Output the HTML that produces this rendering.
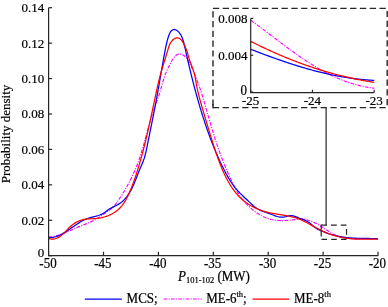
<!DOCTYPE html>
<html><head><meta charset="utf-8"><style>
html,body{margin:0;padding:0;background:#fff;}
svg{display:block;}
text{font-family:"Liberation Serif", "Times New Roman", serif;font-size:13px;fill:#000;stroke:#000;stroke-width:0.2px;}
</style></head><body>
<svg width="388" height="307" viewBox="0 0 388 307">
<rect width="388" height="307" fill="#fff"/>
<g fill="none" stroke-linejoin="round">
<path d="M48.59,236.96 L49.99,236.85 L51.37,236.69 L52.74,236.48 L54.09,236.23 L55.44,235.93 L56.76,235.60 L58.08,235.22 L59.39,234.82 L60.69,234.38 L61.98,233.92 L63.26,233.43 L64.54,232.92 L65.81,232.40 L67.08,231.86 L68.35,231.31 L69.61,230.75 L70.87,230.18 L72.13,229.62 L73.39,229.05 L74.66,228.49 L75.92,227.94 L77.19,227.40 L78.47,226.87 L79.75,226.35 L81.03,225.85 L82.31,225.35 L83.60,224.85 L84.88,224.35 L86.16,223.85 L87.43,223.34 L88.69,222.81 L89.95,222.27 L91.20,221.70 L92.43,221.11 L93.66,220.49 L94.86,219.83 L96.05,219.14 L97.23,218.41 L98.39,217.65 L99.54,216.87 L100.69,216.09 L101.83,215.29 L102.98,214.50 L104.13,213.73 L105.29,212.97 L106.44,212.20 L107.58,211.44 L108.70,210.66 L109.81,209.85 L110.88,209.02 L111.93,208.15 L112.93,207.23 L113.89,206.25 L114.80,205.22 L115.67,204.14 L116.51,203.03 L117.32,201.89 L118.11,200.74 L118.89,199.59 L119.66,198.44 L120.41,197.29 L121.16,196.14 L121.89,194.98 L122.62,193.82 L123.34,192.66 L124.04,191.48 L124.74,190.31 L125.43,189.12 L126.12,187.93 L126.80,186.74 L127.46,185.54 L128.12,184.33 L128.77,183.11 L129.42,181.89 L130.05,180.67 L130.67,179.44 L131.29,178.20 L131.90,176.96 L132.49,175.71 L133.08,174.46 L133.65,173.20 L134.22,171.94 L134.78,170.68 L135.32,169.41 L135.86,168.13 L136.38,166.85 L136.89,165.57 L137.39,164.28 L137.88,162.99 L138.36,161.70 L138.83,160.40 L139.28,159.10 L139.73,157.79 L140.17,156.48 L140.59,155.17 L141.01,153.86 L141.42,152.54 L141.82,151.23 L142.21,149.91 L142.60,148.58 L142.99,147.26 L143.36,145.93 L143.73,144.61 L144.10,143.28 L144.47,141.95 L144.83,140.62 L145.19,139.29 L145.54,137.96 L145.90,136.63 L146.25,135.29 L146.61,133.96 L146.96,132.63 L147.32,131.30 L147.67,129.97 L148.03,128.64 L148.39,127.31 L148.76,125.98 L149.13,124.66 L149.50,123.33 L149.88,122.01 L150.26,120.69 L150.65,119.37 L151.04,118.05 L151.45,116.74 L151.86,115.43 L152.28,114.12 L152.70,112.81 L153.14,111.51 L153.59,110.21 L154.04,108.91 L154.50,107.62 L154.96,106.33 L155.43,105.03 L155.90,103.74 L156.37,102.45 L156.83,101.15 L157.30,99.85 L157.76,98.56 L158.21,97.26 L158.66,95.95 L159.09,94.64 L159.52,93.33 L159.94,92.02 L160.34,90.69 L160.73,89.37 L161.11,88.04 L161.48,86.70 L161.86,85.37 L162.23,84.04 L162.60,82.72 L162.99,81.39 L163.38,80.08 L163.78,78.77 L164.20,77.46 L164.64,76.17 L165.09,74.89 L165.57,73.62 L166.07,72.37 L166.60,71.12 L167.15,69.87 L167.72,68.64 L168.32,67.40 L168.94,66.17 L169.58,64.94 L170.25,63.71 L170.95,62.47 L171.67,61.24 L172.41,59.99 L173.18,58.74 L174.00,57.53 L174.86,56.41 L175.81,55.44 L176.85,54.69 L178.00,54.22 L179.25,54.04 L180.54,54.13 L181.83,54.45 L183.06,54.99 L184.19,55.70 L185.19,56.56 L186.10,57.55 L186.92,58.64 L187.67,59.81 L188.38,61.04 L189.05,62.29 L189.70,63.55 L190.34,64.81 L190.97,66.07 L191.58,67.34 L192.18,68.61 L192.76,69.88 L193.33,71.15 L193.89,72.43 L194.44,73.70 L194.98,74.98 L195.50,76.26 L196.02,77.55 L196.52,78.83 L197.01,80.12 L197.50,81.41 L197.97,82.70 L198.44,84.00 L198.90,85.29 L199.35,86.59 L199.79,87.89 L200.23,89.19 L200.66,90.49 L201.08,91.79 L201.50,93.10 L201.91,94.41 L202.32,95.71 L202.72,97.02 L203.12,98.33 L203.51,99.65 L203.90,100.96 L204.29,102.28 L204.68,103.59 L205.06,104.91 L205.44,106.23 L205.82,107.55 L206.20,108.87 L206.58,110.19 L206.95,111.51 L207.33,112.83 L207.71,114.15 L208.09,115.48 L208.47,116.80 L208.85,118.13 L209.24,119.46 L209.62,120.78 L210.01,122.11 L210.40,123.43 L210.79,124.76 L211.18,126.09 L211.58,127.41 L211.98,128.74 L212.38,130.06 L212.78,131.39 L213.19,132.71 L213.59,134.03 L214.01,135.36 L214.42,136.68 L214.84,137.99 L215.26,139.31 L215.69,140.63 L216.12,141.94 L216.55,143.26 L216.99,144.57 L217.43,145.87 L217.88,147.18 L218.33,148.49 L218.79,149.79 L219.25,151.09 L219.72,152.38 L220.19,153.68 L220.66,154.97 L221.14,156.26 L221.63,157.54 L222.12,158.82 L222.62,160.10 L223.12,161.38 L223.63,162.65 L224.15,163.92 L224.67,165.19 L225.19,166.46 L225.72,167.72 L226.26,168.98 L226.80,170.24 L227.34,171.50 L227.89,172.76 L228.45,174.02 L229.01,175.28 L229.57,176.53 L230.14,177.79 L230.72,179.04 L231.30,180.29 L231.89,181.54 L232.48,182.79 L233.09,184.03 L233.71,185.26 L234.33,186.49 L234.97,187.72 L235.63,188.93 L236.30,190.13 L236.98,191.32 L237.69,192.51 L238.41,193.67 L239.15,194.83 L239.91,195.97 L240.69,197.09 L241.50,198.20 L242.33,199.29 L243.18,200.36 L244.06,201.41 L244.97,202.44 L245.90,203.46 L246.86,204.45 L247.84,205.42 L248.84,206.38 L249.86,207.31 L250.90,208.23 L251.96,209.12 L253.04,210.00 L254.13,210.86 L255.25,211.69 L256.38,212.50 L257.53,213.27 L258.69,214.02 L259.88,214.74 L261.07,215.43 L262.29,216.07 L263.52,216.69 L264.76,217.26 L266.02,217.79 L267.30,218.27 L268.59,218.71 L269.89,219.11 L271.21,219.45 L272.54,219.74 L273.88,219.99 L275.24,220.19 L276.60,220.35 L277.97,220.47 L279.35,220.55 L280.73,220.59 L282.12,220.60 L283.51,220.58 L284.90,220.54 L286.29,220.46 L287.69,220.37 L289.08,220.25 L290.46,220.11 L291.84,219.96 L293.22,219.79 L294.59,219.61 L295.95,219.42 L297.30,219.23 L298.65,219.05 L299.98,218.91 L301.32,218.86 L302.66,218.93 L304.00,219.12 L305.34,219.41 L306.68,219.77 L308.00,220.19 L309.32,220.65 L310.63,221.12 L311.92,221.59 L313.19,222.08 L314.45,222.62 L315.69,223.20 L316.91,223.82 L318.11,224.49 L319.30,225.19 L320.48,225.92 L321.65,226.66 L322.81,227.43 L323.97,228.21 L325.13,228.99 L326.28,229.77 L327.44,230.55 L328.60,231.31 L329.76,232.06 L330.94,232.79 L332.12,233.48 L333.32,234.15 L334.53,234.77 L335.76,235.35 L337.01,235.88 L338.28,236.35 L339.56,236.77 L340.87,237.15 L342.19,237.48 L343.52,237.77 L344.87,238.01 L346.23,238.22 L347.60,238.40 L348.98,238.54 L350.37,238.66 L351.77,238.74 L353.17,238.81 L354.58,238.85 L355.99,238.87 L357.40,238.88 L358.81,238.87 L360.23,238.86 L361.64,238.83 L363.05,238.80 L364.45,238.77 L365.85,238.74 L367.25,238.71 L368.63,238.68 L370.01,238.67 L371.37,238.66 L372.73,238.67 L374.07,238.69 L375.39,238.74 L376.70,238.80 L378.00,238.89" stroke="#ff00ff" stroke-width="1.15" stroke-dasharray="3.7 1.3 1.1 1.3"/>
<path d="M48.60,237.65 L50.13,237.64 L51.63,237.53 L53.11,237.32 L54.56,237.01 L55.98,236.63 L57.38,236.16 L58.75,235.62 L60.10,235.02 L61.44,234.37 L62.75,233.66 L64.05,232.90 L65.33,232.12 L66.60,231.30 L67.85,230.45 L69.10,229.60 L70.33,228.73 L71.56,227.86 L72.78,226.99 L74.00,226.14 L75.22,225.29 L76.44,224.46 L77.66,223.65 L78.90,222.85 L80.15,222.08 L81.42,221.33 L82.71,220.60 L84.02,219.93 L85.36,219.31 L86.74,218.76 L88.15,218.28 L89.58,217.86 L91.03,217.47 L92.49,217.10 L93.96,216.73 L95.42,216.36 L96.88,215.95 L98.31,215.51 L99.73,215.01 L101.11,214.45 L102.44,213.82 L103.73,213.09 L104.96,212.27 L106.15,211.39 L107.33,210.48 L108.54,209.60 L109.80,208.79 L111.12,208.04 L112.47,207.34 L113.83,206.67 L115.20,206.00 L116.55,205.32 L117.88,204.61 L119.16,203.85 L120.38,203.02 L121.55,202.13 L122.67,201.18 L123.73,200.17 L124.75,199.12 L125.73,198.01 L126.65,196.86 L127.54,195.68 L128.39,194.45 L129.20,193.19 L129.98,191.90 L130.72,190.59 L131.43,189.25 L132.11,187.90 L132.77,186.53 L133.40,185.15 L134.01,183.76 L134.60,182.36 L135.17,180.97 L135.72,179.57 L136.26,178.19 L136.79,176.81 L137.32,175.43 L137.85,174.06 L138.38,172.69 L138.93,171.33 L139.49,169.96 L140.07,168.60 L140.67,167.23 L141.27,165.86 L141.86,164.48 L142.45,163.10 L143.01,161.70 L143.54,160.30 L144.03,158.89 L144.49,157.46 L144.91,156.03 L145.30,154.59 L145.66,153.14 L146.00,151.68 L146.33,150.22 L146.63,148.75 L146.93,147.28 L147.23,145.81 L147.52,144.35 L147.81,142.88 L148.11,141.41 L148.40,139.94 L148.70,138.48 L148.99,137.01 L149.29,135.55 L149.58,134.08 L149.88,132.62 L150.18,131.16 L150.48,129.69 L150.77,128.23 L151.07,126.77 L151.37,125.30 L151.66,123.84 L151.96,122.38 L152.25,120.92 L152.55,119.45 L152.84,117.99 L153.13,116.53 L153.42,115.06 L153.71,113.60 L154.00,112.14 L154.29,110.67 L154.57,109.21 L154.86,107.74 L155.14,106.27 L155.42,104.80 L155.70,103.34 L155.97,101.87 L156.25,100.40 L156.52,98.93 L156.79,97.45 L157.05,95.98 L157.32,94.51 L157.58,93.03 L157.84,91.56 L158.11,90.08 L158.37,88.61 L158.62,87.13 L158.88,85.66 L159.14,84.18 L159.40,82.71 L159.65,81.23 L159.91,79.75 L160.16,78.28 L160.42,76.80 L160.67,75.33 L160.93,73.86 L161.18,72.38 L161.44,70.91 L161.69,69.44 L161.95,67.97 L162.21,66.49 L162.46,65.03 L162.72,63.56 L162.98,62.09 L163.24,60.62 L163.51,59.16 L163.77,57.69 L164.04,56.23 L164.31,54.77 L164.58,53.31 L164.85,51.85 L165.12,50.40 L165.40,48.94 L165.68,47.49 L165.98,46.04 L166.29,44.58 L166.62,43.13 L166.98,41.67 L167.37,40.21 L167.79,38.75 L168.25,37.28 L168.75,35.81 L169.30,34.33 L169.92,32.87 L170.68,31.55 L171.67,30.47 L172.89,29.75 L174.25,29.48 L175.59,29.75 L176.86,30.44 L178.02,31.36 L179.05,32.41 L179.95,33.55 L180.75,34.77 L181.45,36.07 L182.06,37.43 L182.60,38.84 L183.08,40.29 L183.51,41.77 L183.90,43.27 L184.26,44.77 L184.61,46.26 L184.96,47.74 L185.30,49.22 L185.63,50.68 L185.96,52.14 L186.29,53.59 L186.61,55.04 L186.94,56.48 L187.27,57.93 L187.59,59.37 L187.92,60.82 L188.26,62.26 L188.59,63.71 L188.93,65.15 L189.27,66.60 L189.61,68.05 L189.96,69.49 L190.30,70.94 L190.65,72.39 L191.01,73.84 L191.36,75.29 L191.72,76.73 L192.08,78.18 L192.45,79.63 L192.81,81.08 L193.18,82.53 L193.56,83.97 L193.93,85.42 L194.31,86.87 L194.69,88.32 L195.08,89.76 L195.47,91.21 L195.86,92.65 L196.25,94.10 L196.65,95.54 L197.05,96.98 L197.46,98.43 L197.87,99.87 L198.28,101.31 L198.70,102.75 L199.12,104.19 L199.54,105.62 L199.96,107.06 L200.39,108.50 L200.83,109.93 L201.27,111.36 L201.71,112.79 L202.15,114.22 L202.60,115.65 L203.05,117.08 L203.51,118.51 L203.97,119.93 L204.44,121.35 L204.91,122.77 L205.38,124.19 L205.86,125.61 L206.34,127.02 L206.82,128.44 L207.31,129.85 L207.81,131.26 L208.31,132.66 L208.81,134.07 L209.32,135.47 L209.83,136.87 L210.35,138.27 L210.88,139.66 L211.41,141.06 L211.94,142.45 L212.48,143.84 L213.03,145.22 L213.58,146.61 L214.14,147.99 L214.71,149.37 L215.28,150.75 L215.86,152.12 L216.45,153.49 L217.04,154.86 L217.64,156.23 L218.24,157.59 L218.86,158.95 L219.48,160.31 L220.11,161.66 L220.75,163.02 L221.39,164.37 L222.05,165.71 L222.71,167.06 L223.38,168.40 L224.06,169.74 L224.75,171.07 L225.44,172.41 L226.15,173.73 L226.87,175.05 L227.60,176.37 L228.35,177.67 L229.11,178.96 L229.90,180.24 L230.70,181.50 L231.52,182.75 L232.36,183.98 L233.22,185.19 L234.11,186.38 L235.03,187.55 L235.97,188.69 L236.93,189.81 L237.92,190.92 L238.93,192.00 L239.96,193.07 L241.01,194.13 L242.07,195.17 L243.14,196.21 L244.23,197.24 L245.32,198.27 L246.42,199.29 L247.52,200.32 L248.63,201.34 L249.73,202.38 L250.84,203.41 L251.95,204.44 L253.07,205.46 L254.21,206.44 L255.37,207.37 L256.57,208.25 L257.80,209.06 L259.08,209.78 L260.40,210.42 L261.76,211.00 L263.15,211.53 L264.56,212.02 L265.99,212.49 L267.42,212.96 L268.86,213.44 L270.29,213.93 L271.70,214.47 L273.11,215.02 L274.51,215.57 L275.91,216.07 L277.32,216.50 L278.74,216.82 L280.17,217.02 L281.62,217.08 L283.08,217.02 L284.55,216.85 L286.02,216.56 L287.49,216.19 L288.95,215.85 L290.41,215.67 L291.86,215.72 L293.30,215.96 L294.73,216.36 L296.16,216.85 L297.59,217.41 L299.01,217.99 L300.43,218.55 L301.84,219.08 L303.24,219.61 L304.62,220.16 L305.96,220.76 L307.27,221.43 L308.54,222.19 L309.75,223.06 L310.93,224.01 L312.07,225.00 L313.20,225.99 L314.35,226.95 L315.53,227.84 L316.77,228.65 L318.08,229.37 L319.43,230.02 L320.81,230.64 L322.19,231.22 L323.58,231.79 L324.98,232.33 L326.38,232.85 L327.79,233.34 L329.21,233.82 L330.63,234.26 L332.06,234.69 L333.50,235.09 L334.94,235.47 L336.38,235.82 L337.83,236.15 L339.29,236.45 L340.75,236.73 L342.21,236.98 L343.68,237.20 L345.16,237.40 L346.64,237.58 L348.12,237.73 L349.60,237.86 L351.09,237.97 L352.58,238.06 L354.08,238.14 L355.57,238.20 L357.07,238.26 L358.57,238.30 L360.07,238.33 L361.57,238.36 L363.07,238.39 L364.57,238.41 L366.07,238.44 L367.57,238.46 L369.06,238.49 L370.56,238.53 L372.05,238.57 L373.54,238.63 L375.03,238.69 L376.51,238.77 L377.99,238.87" stroke="#0000ff" stroke-width="1.25"/>
<path d="M48.48,238.65 L50.14,238.97 L51.71,239.10 L53.20,239.05 L54.62,238.84 L55.97,238.48 L57.26,237.98 L58.50,237.35 L59.69,236.62 L60.84,235.79 L61.96,234.89 L63.05,233.91 L64.12,232.89 L65.18,231.83 L66.23,230.74 L67.28,229.65 L68.34,228.56 L69.41,227.49 L70.51,226.45 L71.62,225.46 L72.78,224.53 L73.97,223.67 L75.19,222.88 L76.45,222.17 L77.74,221.52 L79.05,220.95 L80.39,220.45 L81.76,220.02 L83.14,219.66 L84.54,219.36 L85.96,219.14 L87.39,218.99 L88.83,218.88 L90.28,218.81 L91.74,218.75 L93.21,218.69 L94.68,218.61 L96.15,218.49 L97.63,218.32 L99.10,218.10 L100.57,217.84 L102.03,217.53 L103.48,217.17 L104.92,216.76 L106.33,216.31 L107.73,215.80 L109.10,215.25 L110.45,214.64 L111.76,213.99 L113.05,213.29 L114.29,212.54 L115.50,211.73 L116.67,210.88 L117.78,209.97 L118.86,209.02 L119.88,208.01 L120.85,206.95 L121.78,205.86 L122.66,204.72 L123.51,203.54 L124.32,202.33 L125.09,201.10 L125.83,199.83 L126.54,198.54 L127.22,197.23 L127.88,195.90 L128.51,194.56 L129.13,193.20 L129.72,191.84 L130.30,190.48 L130.87,189.11 L131.43,187.74 L131.97,186.37 L132.50,185.00 L133.02,183.63 L133.53,182.25 L134.03,180.87 L134.51,179.49 L134.99,178.11 L135.46,176.73 L135.93,175.34 L136.38,173.96 L136.83,172.57 L137.27,171.18 L137.71,169.78 L138.14,168.39 L138.56,166.99 L138.98,165.60 L139.40,164.20 L139.81,162.80 L140.21,161.39 L140.61,159.99 L141.00,158.58 L141.39,157.17 L141.78,155.77 L142.16,154.35 L142.54,152.94 L142.91,151.53 L143.28,150.11 L143.65,148.70 L144.01,147.28 L144.37,145.86 L144.72,144.44 L145.07,143.02 L145.42,141.60 L145.77,140.18 L146.11,138.75 L146.45,137.33 L146.78,135.90 L147.12,134.47 L147.45,133.05 L147.78,131.62 L148.10,130.19 L148.42,128.76 L148.75,127.33 L149.06,125.90 L149.38,124.46 L149.70,123.03 L150.01,121.60 L150.32,120.16 L150.63,118.73 L150.94,117.30 L151.25,115.86 L151.56,114.42 L151.86,112.99 L152.17,111.55 L152.47,110.12 L152.78,108.68 L153.08,107.24 L153.38,105.81 L153.68,104.37 L153.99,102.93 L154.29,101.49 L154.59,100.06 L154.89,98.62 L155.20,97.18 L155.50,95.75 L155.81,94.31 L156.12,92.88 L156.43,91.44 L156.74,90.01 L157.06,88.58 L157.38,87.15 L157.71,85.73 L158.04,84.30 L158.37,82.88 L158.71,81.46 L159.06,80.04 L159.41,78.63 L159.77,77.21 L160.14,75.80 L160.51,74.40 L160.89,72.99 L161.28,71.59 L161.68,70.20 L162.09,68.81 L162.50,67.42 L162.93,66.03 L163.35,64.65 L163.79,63.26 L164.22,61.87 L164.66,60.48 L165.10,59.09 L165.54,57.68 L165.97,56.28 L166.40,54.86 L166.83,53.43 L167.25,52.00 L167.66,50.55 L168.07,49.10 L168.51,47.65 L169.00,46.23 L169.54,44.85 L170.17,43.52 L170.91,42.25 L171.77,41.06 L172.78,39.97 L173.92,39.02 L175.16,38.32 L176.47,37.94 L177.78,37.92 L179.05,38.25 L180.21,38.93 L181.26,39.91 L182.19,41.10 L183.02,42.41 L183.75,43.79 L184.42,45.19 L185.04,46.58 L185.64,47.95 L186.21,49.28 L186.74,50.61 L187.21,51.96 L187.63,53.33 L188.02,54.72 L188.39,56.12 L188.77,57.52 L189.18,58.92 L189.63,60.31 L190.11,61.69 L190.61,63.07 L191.13,64.45 L191.65,65.83 L192.18,67.20 L192.69,68.58 L193.18,69.97 L193.65,71.36 L194.08,72.75 L194.46,74.16 L194.80,75.58 L195.10,77.00 L195.38,78.44 L195.63,79.87 L195.88,81.31 L196.12,82.75 L196.36,84.19 L196.62,85.63 L196.90,87.07 L197.19,88.50 L197.50,89.93 L197.82,91.36 L198.15,92.79 L198.50,94.21 L198.85,95.64 L199.22,97.06 L199.59,98.48 L199.97,99.90 L200.37,101.31 L200.76,102.73 L201.17,104.14 L201.57,105.56 L201.99,106.97 L202.40,108.38 L202.82,109.79 L203.24,111.19 L203.66,112.60 L204.08,114.01 L204.50,115.41 L204.92,116.82 L205.34,118.22 L205.75,119.63 L206.17,121.03 L206.59,122.43 L207.00,123.83 L207.42,125.24 L207.83,126.64 L208.25,128.04 L208.67,129.44 L209.09,130.83 L209.51,132.23 L209.93,133.63 L210.36,135.03 L210.78,136.42 L211.21,137.82 L211.65,139.21 L212.08,140.61 L212.52,142.00 L212.96,143.40 L213.41,144.79 L213.86,146.18 L214.31,147.57 L214.77,148.96 L215.23,150.35 L215.70,151.74 L216.17,153.13 L216.65,154.52 L217.13,155.91 L217.62,157.30 L218.12,158.68 L218.63,160.07 L219.14,161.45 L219.66,162.83 L220.19,164.21 L220.73,165.58 L221.27,166.95 L221.84,168.31 L222.41,169.67 L222.99,171.02 L223.59,172.37 L224.20,173.70 L224.83,175.03 L225.47,176.35 L226.12,177.66 L226.80,178.96 L227.49,180.25 L228.19,181.53 L228.92,182.80 L229.67,184.05 L230.43,185.29 L231.21,186.52 L232.02,187.73 L232.85,188.93 L233.70,190.11 L234.57,191.27 L235.47,192.41 L236.40,193.53 L237.35,194.63 L238.32,195.71 L239.33,196.76 L240.36,197.78 L241.42,198.78 L242.51,199.76 L243.64,200.70 L244.79,201.61 L245.97,202.50 L247.19,203.35 L248.43,204.17 L249.69,204.95 L250.97,205.71 L252.27,206.43 L253.58,207.12 L254.90,207.77 L256.23,208.39 L257.56,208.97 L258.91,209.53 L260.26,210.05 L261.62,210.54 L262.99,211.00 L264.37,211.43 L265.75,211.83 L267.15,212.21 L268.56,212.56 L269.97,212.89 L271.40,213.19 L272.84,213.47 L274.28,213.73 L275.73,213.98 L277.18,214.22 L278.64,214.44 L280.10,214.67 L281.56,214.89 L283.03,215.12 L284.48,215.36 L285.94,215.61 L287.39,215.87 L288.83,216.14 L290.27,216.44 L291.70,216.77 L293.11,217.12 L294.51,217.51 L295.91,217.93 L297.28,218.39 L298.64,218.89 L299.99,219.43 L301.32,220.00 L302.64,220.60 L303.96,221.23 L305.26,221.88 L306.56,222.55 L307.85,223.24 L309.14,223.94 L310.43,224.65 L311.71,225.36 L313.00,226.08 L314.28,226.79 L315.57,227.50 L316.86,228.21 L318.16,228.90 L319.47,229.58 L320.78,230.24 L322.11,230.87 L323.44,231.49 L324.79,232.09 L326.14,232.66 L327.50,233.21 L328.87,233.73 L330.24,234.24 L331.63,234.71 L333.02,235.17 L334.42,235.60 L335.82,236.01 L337.23,236.39 L338.65,236.74 L340.07,237.07 L341.50,237.37 L342.94,237.65 L344.37,237.90 L345.82,238.12 L347.26,238.32 L348.71,238.49 L350.17,238.64 L351.63,238.77 L353.09,238.88 L354.55,238.96 L356.01,239.03 L357.48,239.09 L358.95,239.13 L360.42,239.16 L361.88,239.17 L363.35,239.18 L364.82,239.17 L366.29,239.16 L367.76,239.15 L369.23,239.12 L370.70,239.10 L372.16,239.08 L373.63,239.05 L375.09,239.03 L376.55,239.01 L378.00,238.99" stroke="#ff0000" stroke-width="1.25"/>
</g>
<g stroke="#262626" stroke-width="1.2" fill="none">
<polyline points="48.6,7.7 48.6,255.7 378.0,255.7"/>
<line x1="48.60" y1="255.7" x2="48.60" y2="251.70"/><line x1="103.50" y1="255.7" x2="103.50" y2="251.70"/><line x1="158.40" y1="255.7" x2="158.40" y2="251.70"/><line x1="213.30" y1="255.7" x2="213.30" y2="251.70"/><line x1="268.20" y1="255.7" x2="268.20" y2="251.70"/><line x1="323.10" y1="255.7" x2="323.10" y2="251.70"/><line x1="378.00" y1="255.7" x2="378.00" y2="251.70"/><line x1="48.6" y1="255.70" x2="52.10" y2="255.70"/><line x1="48.6" y1="220.27" x2="52.10" y2="220.27"/><line x1="48.6" y1="184.84" x2="52.10" y2="184.84"/><line x1="48.6" y1="149.41" x2="52.10" y2="149.41"/><line x1="48.6" y1="113.99" x2="52.10" y2="113.99"/><line x1="48.6" y1="78.56" x2="52.10" y2="78.56"/><line x1="48.6" y1="43.13" x2="52.10" y2="43.13"/><line x1="48.6" y1="7.70" x2="52.10" y2="7.70"/>
</g>
<text transform="translate(48.00,268.10) scale(1,1.07)" text-anchor="middle">-50</text><text transform="translate(102.90,268.10) scale(1,1.07)" text-anchor="middle">-45</text><text transform="translate(157.80,268.10) scale(1,1.07)" text-anchor="middle">-40</text><text transform="translate(212.70,268.10) scale(1,1.07)" text-anchor="middle">-35</text><text transform="translate(267.60,268.10) scale(1,1.07)" text-anchor="middle">-30</text><text transform="translate(322.50,268.10) scale(1,1.07)" text-anchor="middle">-25</text><text transform="translate(377.40,268.10) scale(1,1.07)" text-anchor="middle">-20</text>
<text transform="translate(44.20,257.10) scale(1,1.02)" text-anchor="end">0</text><text transform="translate(44.20,224.67) scale(1,1.02)" text-anchor="end">0.02</text><text transform="translate(44.20,189.24) scale(1,1.02)" text-anchor="end">0.04</text><text transform="translate(44.20,153.81) scale(1,1.02)" text-anchor="end">0.06</text><text transform="translate(44.20,118.39) scale(1,1.02)" text-anchor="end">0.08</text><text transform="translate(44.20,82.96) scale(1,1.02)" text-anchor="end">0.10</text><text transform="translate(44.20,47.53) scale(1,1.02)" text-anchor="end">0.12</text><text transform="translate(44.20,12.10) scale(1,1.02)" text-anchor="end">0.14</text>
<text transform="translate(10.4,134.0) rotate(-90) scale(1,0.9)" text-anchor="middle">Probability density</text>
<text transform="translate(178.0,281.2) scale(1,1.05)"><tspan font-style="italic">P</tspan><tspan font-size="8.5" dy="2">101-102</tspan><tspan dy="-2"> (MW)</tspan></text>
<!-- zoom rect and connector -->
<g fill="none" stroke="#262626" stroke-width="1.2">
<line x1="321.2" y1="225.1" x2="346.5" y2="225.1" stroke-dasharray="5.8 4"/>
<line x1="321.4" y1="239.3" x2="346.5" y2="239.3" stroke-dasharray="5.6 4.2"/>
<line x1="346.5" y1="229" x2="346.5" y2="234.8"/>
<line x1="321.2" y1="224.5" x2="321.2" y2="236.4"/>
<line x1="326.1" y1="107.6" x2="326.1" y2="225.1"/>
</g>
<!-- inset -->
<rect x="213" y="8.4" width="174.3" height="99.2" fill="#fff" stroke="none"/>
<g fill="none" stroke-linejoin="round">
<path d="M250.81,20.31 L251.77,21.00 L252.72,21.68 L253.68,22.37 L254.63,23.06 L255.59,23.76 L256.54,24.46 L257.50,25.16 L258.45,25.86 L259.41,26.57 L260.36,27.28 L261.32,27.99 L262.27,28.70 L263.22,29.42 L264.18,30.13 L265.13,30.85 L266.09,31.57 L267.04,32.29 L267.99,33.01 L268.95,33.74 L269.90,34.46 L270.86,35.19 L271.82,35.91 L272.77,36.64 L273.73,37.37 L274.69,38.09 L275.65,38.82 L276.61,39.55 L277.57,40.28 L278.53,41.00 L279.49,41.73 L280.45,42.46 L281.41,43.18 L282.38,43.91 L283.34,44.63 L284.31,45.35 L285.28,46.08 L286.25,46.80 L287.22,47.51 L288.19,48.23 L289.16,48.95 L290.13,49.66 L291.11,50.37 L292.09,51.08 L293.06,51.79 L294.04,52.49 L295.03,53.19 L296.01,53.89 L296.99,54.59 L297.98,55.28 L298.97,55.97 L299.96,56.66 L300.95,57.34 L301.95,58.02 L302.94,58.70 L303.94,59.37 L304.94,60.04 L305.94,60.70 L306.95,61.36 L307.96,62.02 L308.97,62.67 L309.98,63.32 L310.99,63.96 L312.01,64.60 L313.03,65.23 L314.05,65.86 L315.07,66.48 L316.10,67.09 L317.13,67.70 L318.16,68.31 L319.20,68.91 L320.24,69.50 L321.28,70.09 L322.32,70.67 L323.37,71.24 L324.42,71.81 L325.47,72.37 L326.53,72.92 L327.59,73.47 L328.65,74.01 L329.72,74.54 L330.79,75.07 L331.86,75.59 L332.93,76.10 L334.01,76.60 L335.10,77.09 L336.18,77.58 L337.27,78.06 L338.37,78.53 L339.47,78.99 L340.57,79.44 L341.67,79.89 L342.78,80.32 L343.89,80.75 L345.01,81.17 L346.13,81.58 L347.26,81.97 L348.39,82.36 L349.52,82.74 L350.66,83.11 L351.80,83.47 L352.95,83.82 L354.10,84.16 L355.25,84.49 L356.41,84.81 L357.58,85.12 L358.75,85.41 L359.92,85.70 L361.10,85.98 L362.28,86.24 L363.47,86.49 L364.66,86.73 L365.86,86.96 L367.06,87.18 L368.27,87.39 L369.48,87.58 L370.69,87.76 L371.92,87.93 L373.14,88.09 L374.38,88.23" stroke="#ff00ff" stroke-width="1.15" stroke-dasharray="3.7 1.3 1.1 1.3"/>
<path d="M250.63,49.23 L251.63,49.62 L252.63,50.01 L253.63,50.40 L254.63,50.78 L255.63,51.17 L256.63,51.55 L257.63,51.94 L258.63,52.32 L259.63,52.70 L260.64,53.08 L261.64,53.46 L262.65,53.84 L263.65,54.22 L264.66,54.59 L265.67,54.97 L266.67,55.34 L267.68,55.71 L268.69,56.09 L269.70,56.45 L270.71,56.82 L271.72,57.19 L272.74,57.55 L273.75,57.92 L274.76,58.28 L275.78,58.64 L276.79,59.00 L277.81,59.36 L278.82,59.71 L279.84,60.07 L280.86,60.42 L281.88,60.77 L282.90,61.12 L283.92,61.46 L284.94,61.81 L285.96,62.15 L286.98,62.49 L288.00,62.83 L289.02,63.17 L290.05,63.50 L291.07,63.83 L292.10,64.16 L293.12,64.49 L294.15,64.82 L295.18,65.14 L296.21,65.46 L297.24,65.78 L298.27,66.10 L299.30,66.41 L300.33,66.72 L301.36,67.03 L302.39,67.34 L303.42,67.64 L304.46,67.94 L305.49,68.24 L306.53,68.54 L307.56,68.83 L308.60,69.12 L309.64,69.41 L310.67,69.70 L311.71,69.98 L312.75,70.26 L313.79,70.54 L314.83,70.81 L315.87,71.08 L316.92,71.35 L317.96,71.61 L319.00,71.88 L320.05,72.14 L321.09,72.39 L322.14,72.64 L323.18,72.89 L324.23,73.14 L325.28,73.38 L326.33,73.62 L327.38,73.86 L328.42,74.09 L329.48,74.32 L330.53,74.54 L331.58,74.77 L332.63,74.99 L333.68,75.20 L334.74,75.41 L335.79,75.62 L336.85,75.82 L337.90,76.03 L338.96,76.22 L340.02,76.41 L341.07,76.60 L342.13,76.79 L343.19,76.97 L344.25,77.15 L345.31,77.32 L346.38,77.49 L347.44,77.66 L348.50,77.82 L349.56,77.98 L350.63,78.13 L351.69,78.28 L352.76,78.42 L353.82,78.57 L354.89,78.70 L355.96,78.83 L357.03,78.96 L358.10,79.09 L359.17,79.20 L360.24,79.32 L361.31,79.43 L362.38,79.53 L363.45,79.64 L364.52,79.73 L365.60,79.82 L366.67,79.91 L367.75,79.99 L368.82,80.07 L369.90,80.14 L370.98,80.21 L372.05,80.28 L373.13,80.33 L374.21,80.39" stroke="#0000ff" stroke-width="1.25"/>
<path d="M250.69,41.33 L251.67,41.82 L252.65,42.32 L253.63,42.81 L254.61,43.30 L255.60,43.79 L256.58,44.27 L257.57,44.76 L258.55,45.24 L259.54,45.72 L260.53,46.20 L261.52,46.67 L262.51,47.14 L263.51,47.61 L264.50,48.08 L265.49,48.55 L266.49,49.01 L267.49,49.47 L268.48,49.93 L269.48,50.39 L270.48,50.85 L271.49,51.30 L272.49,51.75 L273.49,52.20 L274.49,52.64 L275.50,53.08 L276.51,53.53 L277.51,53.96 L278.52,54.40 L279.53,54.83 L280.54,55.26 L281.55,55.69 L282.57,56.12 L283.58,56.54 L284.60,56.96 L285.61,57.38 L286.63,57.80 L287.65,58.21 L288.66,58.62 L289.68,59.03 L290.70,59.44 L291.73,59.84 L292.75,60.24 L293.77,60.64 L294.80,61.04 L295.82,61.43 L296.85,61.82 L297.88,62.21 L298.91,62.59 L299.94,62.98 L300.97,63.36 L302.00,63.73 L303.03,64.11 L304.06,64.48 L305.10,64.85 L306.13,65.22 L307.17,65.58 L308.21,65.94 L309.25,66.30 L310.28,66.65 L311.32,67.00 L312.37,67.35 L313.41,67.70 L314.45,68.04 L315.49,68.39 L316.54,68.72 L317.58,69.06 L318.63,69.39 L319.68,69.72 L320.73,70.05 L321.78,70.37 L322.83,70.69 L323.88,71.01 L324.93,71.32 L325.98,71.63 L327.04,71.94 L328.09,72.25 L329.15,72.55 L330.20,72.85 L331.26,73.15 L332.32,73.44 L333.38,73.73 L334.44,74.02 L335.50,74.30 L336.56,74.58 L337.62,74.86 L338.68,75.13 L339.75,75.41 L340.81,75.67 L341.88,75.94 L342.94,76.20 L344.01,76.46 L345.08,76.72 L346.15,76.97 L347.22,77.22 L348.29,77.46 L349.36,77.70 L350.43,77.94 L351.51,78.18 L352.58,78.41 L353.65,78.64 L354.73,78.87 L355.81,79.09 L356.88,79.31 L357.96,79.52 L359.04,79.74 L360.12,79.94 L361.20,80.15 L362.28,80.35 L363.36,80.55 L364.44,80.75 L365.53,80.94 L366.61,81.13 L367.70,81.31 L368.78,81.49 L369.87,81.67 L370.95,81.84 L372.04,82.01 L373.13,82.18 L374.22,82.34" stroke="#ff0000" stroke-width="1.25"/>
</g>
<g stroke="#262626" stroke-width="1.2" fill="none">
<polyline points="250.7,18.4 250.7,92.6 374.2,92.6"/>
<line x1="250.70" y1="92.6" x2="250.70" y2="89.80"/><line x1="312.45" y1="92.6" x2="312.45" y2="89.80"/><line x1="374.20" y1="92.6" x2="374.20" y2="89.80"/><line x1="250.7" y1="92.10" x2="253.20" y2="92.10"/><line x1="250.7" y1="55.25" x2="253.20" y2="55.25"/><line x1="250.7" y1="18.40" x2="253.20" y2="18.40"/>
</g>
<text transform="translate(250.70,104.70) scale(1,1.0)" text-anchor="middle">-25</text><text transform="translate(312.45,104.70) scale(1,1.0)" text-anchor="middle">-24</text><text transform="translate(374.20,104.70) scale(1,1.0)" text-anchor="middle">-23</text><text transform="translate(247.00,94.50) scale(1,1.05)" text-anchor="end">0</text><text transform="translate(247.60,59.65) scale(1,1.0)" text-anchor="end">0.004</text><text transform="translate(247.60,22.80) scale(1,1.0)" text-anchor="end">0.008</text>
<g fill="none" stroke="#262626" stroke-width="1.4">
<line x1="212.9" y1="8.4" x2="387.2" y2="8.4" stroke-dasharray="6.3 3.5"/>
<line x1="212.8" y1="107.6" x2="387.2" y2="107.6" stroke-dasharray="6.3 3.5"/>
<line x1="213" y1="8.4" x2="213" y2="107.6" stroke-dasharray="6.2 3.6" stroke-dashoffset="7.0"/>
<line x1="213" y1="104" x2="213" y2="108.3"/>
<line x1="387.2" y1="8.4" x2="387.2" y2="107.6" stroke-dasharray="6.2 3.6" stroke-dashoffset="7.3"/>
</g>
<!-- legend -->
<g fill="none">
<line x1="84.9" y1="299" x2="121.9" y2="299" stroke="#0000ff" stroke-width="1.25"/>
<line x1="163.5" y1="299" x2="201.7" y2="299" stroke="#ff00ff" stroke-width="1.15" stroke-dasharray="3.7 1.3 1.1 1.3"/>
<line x1="252.6" y1="299" x2="289.3" y2="299" stroke="#ff0000" stroke-width="1.25"/>
</g>
<text transform="translate(126.6,303) scale(1,1.05)">MCS;</text>
<text transform="translate(206.2,303) scale(1,1.05)">ME-6<tspan font-size="8.5" dy="-6">th</tspan><tspan dy="6">;</tspan></text>
<text transform="translate(294,303) scale(1,1.05)">ME-8<tspan font-size="8.5" dy="-6">th</tspan></text>
</svg>
</body></html>
